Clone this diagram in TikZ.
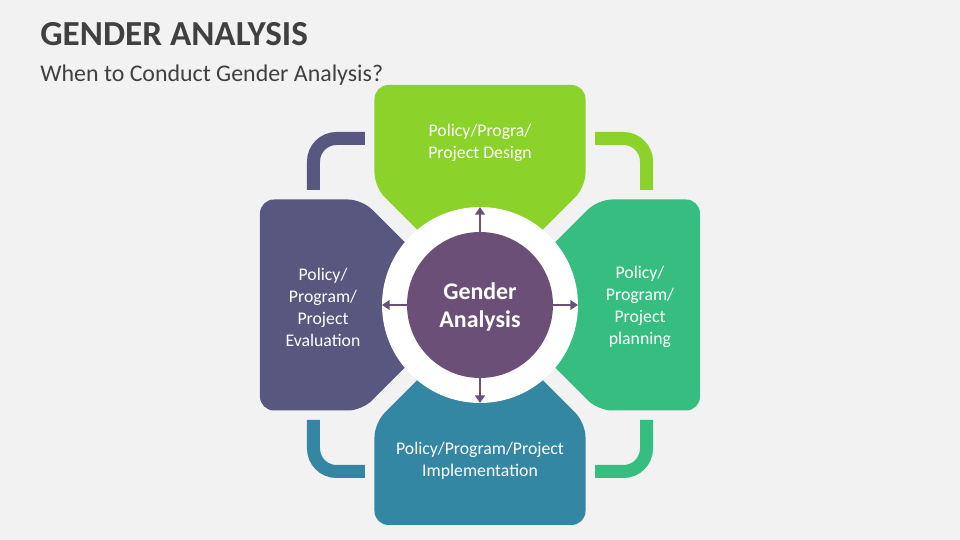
\documentclass[tikz,border=0pt]{standalone}
\usepackage{fontspec}
\setmainfont{Carlito}
\usepackage{xcolor}
\definecolor{cBg}{HTML}{F2F2F2}
\definecolor{cTitle}{HTML}{404040}
\definecolor{cLime}{HTML}{8BD22A}
\definecolor{cGreen}{HTML}{35BE80}
\definecolor{cTeal}{HTML}{3387A3}
\definecolor{cSlate}{HTML}{57577F}
\definecolor{cCore}{HTML}{6C4F77}
\usepackage{tikz}
\usetikzlibrary{positioning,arrows.meta}
\tikzset{
  petal/.pic={
    \fill[#1,rounded corners=0.28cm] (0,220) -- (105.5,220) -- (105.5,118)
      -- (0,12.5) -- (-105.5,118) -- (-105.5,220) -- cycle;
  },
  link/.style={line width=0.26cm,rounded corners=0.46cm},
  petal-label/.style={text=white,align=center,inner sep=0pt,
    font=\fontsize{10.1}{12.5}\selectfont},
  title-text/.style={text=cTitle,inner sep=0pt,anchor=base west},
  node-ring/.style={circle,fill=white,minimum size=3.92cm,inner sep=0pt,outer sep=0pt},
  node-core/.style={circle,fill=cCore,minimum size=2.92cm,inner sep=0pt,outer sep=0pt,
    text=white,align=center,font=\bfseries\fontsize{13.6}{16.3}\selectfont},
  arrow/.style={-{Triangle[length=1.5mm,width=1.9mm]},line width=1.1pt,draw=cCore},
}

\begin{document}
\begin{tikzpicture}[x=0.02cm,y=0.02cm]
  \fill[cBg] (-480,-235) rectangle (480,305);
  \useasboundingbox (-480,-235) rectangle (480,305);
  % titles
  \node[title-text,font=\bfseries\fontsize{20}{24}\selectfont] (title) at (-440,259) {GENDER ANALYSIS};
  \node[title-text,font=\fontsize{13.6}{16}\selectfont] (subtitle) at (-440,223) {When to Conduct Gender Analysis?};
  % brackets between petals
  \foreach \ang/\col in {0/cSlate,-90/cLime,-180/cGreen,-270/cTeal}
    \draw[link,draw=\col,rotate=\ang] (-115,166.5) -- (-166.5,166.5) -- (-166.5,115);
  % petals
  \foreach \ang/\col in {0/cLime,90/cSlate,180/cTeal,270/cGreen}
    \pic[rotate=\ang] {petal=\col};
  % centre
  \node[node-ring] (ring) at (0,0) {};
  \node[node-core] (core) at (0,0) {};
  \node[text=white,align=center,font=\bfseries\fontsize{13.6}{16.3}\selectfont]
    (core-text) at (0,-2) {Gender\\Analysis};
  \draw[arrow] (core.north) -- (ring.north);
  \draw[arrow] (core.south) -- (ring.south);
  \draw[arrow] (core.west)  -- (ring.west);
  \draw[arrow] (core.east)  -- (ring.east);
  % labels
  \node[petal-label] (design) at (0,162) {Policy/Progra/\\Project Design};
  \node[petal-label] (eval)   at (-157,-2) {Policy/\\Program/\\Project\\Evaluation};
  \node[petal-label] (plan)   at (160,-2) {Policy/\\Program/\\Project\\planning};
  \node[petal-label] (impl)   at (0,-156) {Policy/Program/Project\\Implementation};
\end{tikzpicture}
\end{document}
